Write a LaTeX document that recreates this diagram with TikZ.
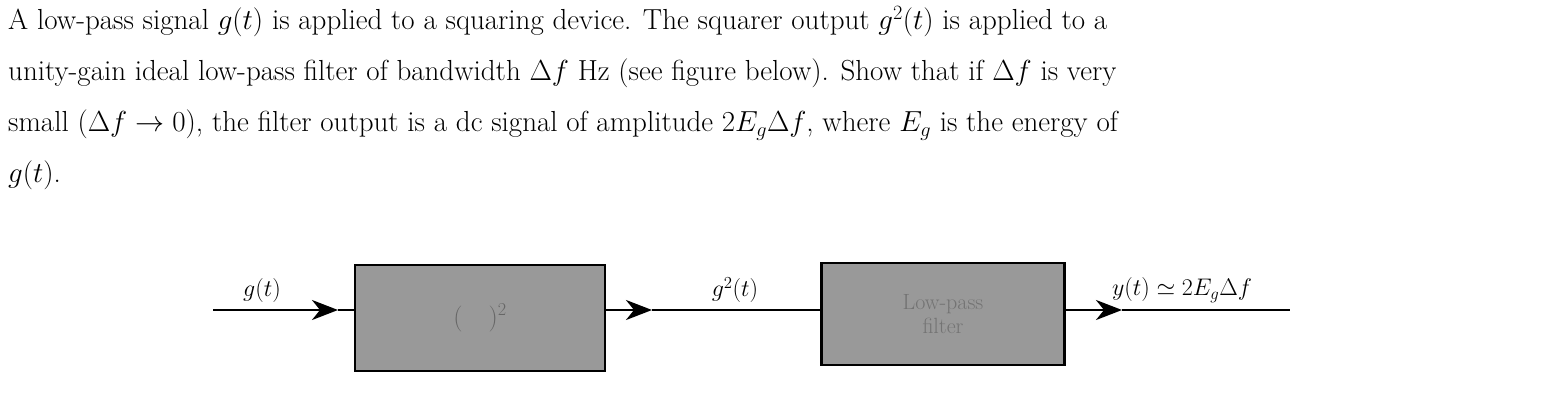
\RequirePackage{fix-cm}
\documentclass[tikz,border=0pt]{standalone}
\usetikzlibrary{arrows.meta}
\begin{document}
\begin{tikzpicture}[x=1pt,y=-1pt,
  blk/.style={draw=black,line width=2.5pt,fill=black!40,minimum width=#1,minimum height=106pt,inner sep=0pt},
  wire/.style={line width=2.5pt},
  tip/.style={wire,-{Stealth[length=26pt,width=20pt,inset=8pt]}},
  lbl/.style={font=\fontsize{24}{26}\selectfont}]
\useasboundingbox (0,0) rectangle (1554,418);
\node[anchor=north west,align=left,inner sep=0pt,font=\fontsize{29}{51}\selectfont] (txt) at (8,6)
{A low-pass signal $g(t)$ is applied to a squaring device. The squarer output $g^2(t)$ is applied to a\\
unity-gain ideal low-pass filter of bandwidth $\Delta f$ Hz (see figure below). Show that if $\Delta f$ is very\\
small ($\Delta f\to 0$), the filter output is a dc signal of amplitude $2E_g\Delta f$, where $E_g$ is the energy of\\
$g(t)$.};
\node[blk=250pt] (sq) at (480,318) {\textcolor{black!60}{\fontsize{26}{28}\selectfont$(\quad)^2$}};
\node[blk=243pt,minimum height=102pt] (lp) at (943,314) {};
\node[align=center,text=black!55,font=\fontsize{22}{24}\selectfont] at (lp) {Low-pass\\filter};
\coordinate (in) at (213,310);
\coordinate (t1) at (338,310);
\coordinate (t2) at (652,310);
\coordinate (t3) at (1122,310);
\coordinate (out) at (1290,310);
\draw[tip] (in) -- (t1);
\draw[wire] (t1) -- (sq.west |- t1);
\draw[tip] (sq.east |- t2) -- (t2);
\draw[wire] (t2) -- (lp.west |- t2);
\draw[tip] (lp.east |- t3) -- (t3);
\draw[wire] (t3) -- (out);
\node[lbl] at (262,290) {$g(t)$};
\node[lbl] at (735,290) {$g^2(t)$};
\node[lbl] at (1182,290) {$y(t)\simeq 2E_g\Delta f$};
\end{tikzpicture}
\end{document}
